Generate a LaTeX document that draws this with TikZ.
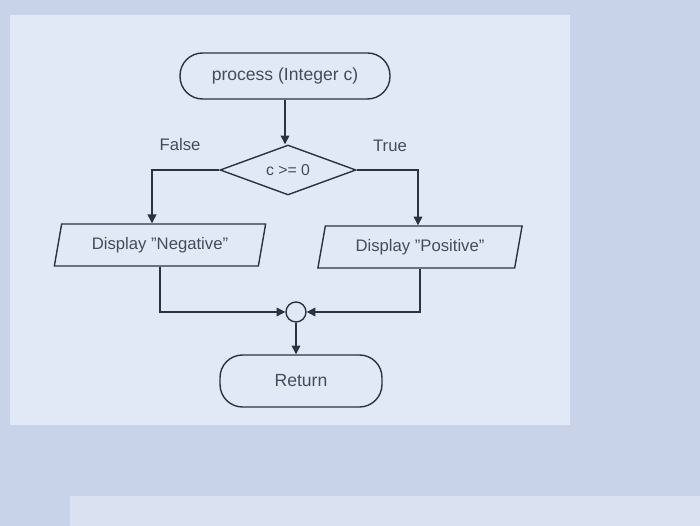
\documentclass[tikz,border=0pt]{standalone}
\usepackage{fontspec}
\setmainfont{Liberation Sans}
\usetikzlibrary{shapes.geometric,arrows.meta}
\definecolor{bg}{RGB}{200,210,232}
\definecolor{panel}{RGB}{226,233,246}
\definecolor{ln}{RGB}{45,50,65}
\definecolor{tx}{RGB}{70,75,90}
\begin{document}
\begin{tikzpicture}[x=0.02cm,y=0.02cm,
  term/.style={draw=ln,thick,rounded corners=0.45cm,fill=panel,text=tx,font=\fontsize{10}{12}\selectfont},
  io/.style={draw=ln,thick,trapezium,trapezium left angle=72,trapezium right angle=108,trapezium stretches=true,fill=panel,text=tx,font=\fontsize{9.5}{11}\selectfont,inner sep=0pt},
  dec/.style={draw=ln,thick,diamond,aspect=2.7,fill=panel,text=tx,font=\fontsize{9}{11}\selectfont,inner sep=0pt},
  arr/.style={draw=ln,thick,-{Triangle[length=5pt,width=5pt]}},
  lbl/.style={text=tx,font=\fontsize{9.5}{11}\selectfont}]
\fill[bg] (0,0) rectangle (700,526);
\fill[panel] (10,101) rectangle (570,511);
\fill[panel!70!bg] (70,0) rectangle (700,30);
\node[term,minimum width=4.2cm,minimum height=0.92cm] (start) at (285,450) {process (Integer c)};
\node[dec,minimum width=2.72cm,minimum height=1.0cm] (d) at (288,356) {c >= 0};
\node[io,minimum width=4.26cm,minimum height=0.84cm] (neg) at (160,281) {Display "Negative"};
\node[io,minimum width=4.1cm,minimum height=0.84cm] (pos) at (420,279) {Display "Positive"};
\node[draw=ln,thick,circle,minimum size=0.4cm,inner sep=0pt,fill=panel] (m) at (296,214) {};
\node[term,minimum width=3.24cm,minimum height=1.04cm] (ret) at (301,145) {Return};
\draw[arr] (start.south) -- (start.south |- d.north);
\draw[arr] (d.west) -| (neg.north -| 152,0);
\draw[arr] (d.east) -| (pos.north -| 418,0);
\draw[arr] (neg.south -| 160,0) |- (m.west);
\draw[arr] (pos.south -| 420,0) |- (m.east);
\draw[arr] (m.south) -- (m.south |- ret.north);
\node[lbl] (f) at (180,381) {False};
\node[lbl] (t) at (390,380) {True};
\end{tikzpicture}
\end{document}
